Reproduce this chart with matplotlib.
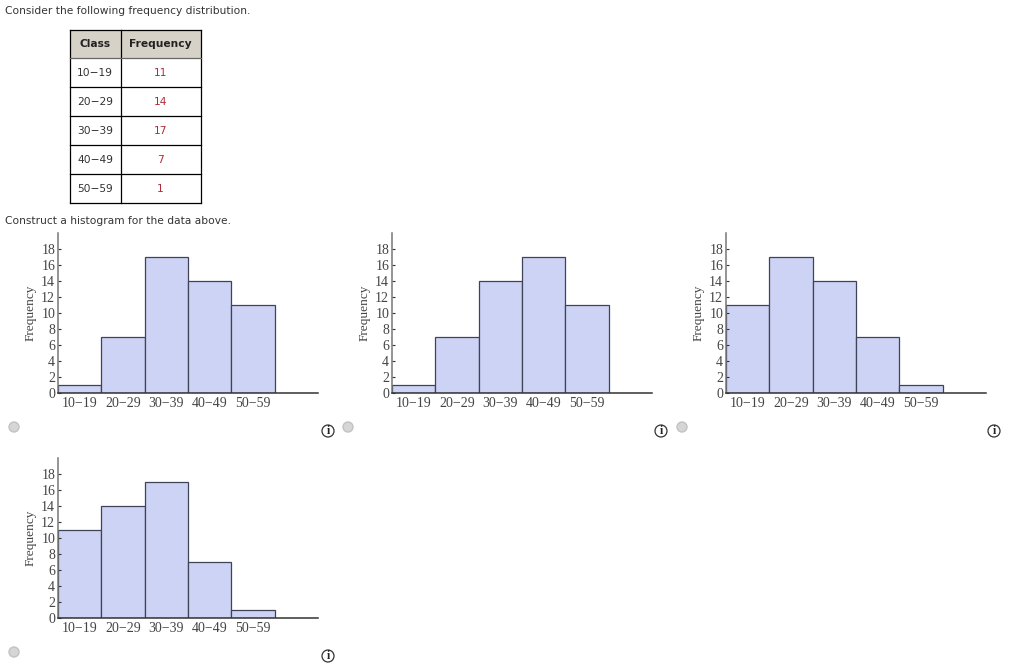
import matplotlib
matplotlib.use('Agg')
import matplotlib.pyplot as plt
from matplotlib.patches import Circle

W, H = 1024, 667

# table values
classes = ['10−19', '20−29', '30−39', '40−49', '50−59']
table_freq = [11, 14, 17, 7, 1]

# histogram options, bars left to right
freq_a = [1, 7, 17, 14, 11]
freq_b = [1, 7, 14, 17, 11]
freq_c = [11, 17, 14, 7, 1]
freq_d = [11, 14, 17, 7, 1]
y_ticks = [0, 2, 4, 6, 8, 10, 12, 14, 16, 18]

BAR_FILL = '#cdd3f5'
BAR_EDGE = '#3f4358'
SERIF = 'Liberation Serif'

fig = plt.figure(figsize=(W / 100, H / 100), dpi=100, facecolor='white')

# overlay in pixel coords for the page stuff
page = fig.add_axes([0, 0, 1, 1])
page.set_xlim(0, W)
page.set_ylim(H, 0)
page.axis('off')

page.text(5, 10.5, 'Consider the following frequency distribution.',
          fontsize=7.65, color='#333333', va='center', family='DejaVu Sans')
page.text(5, 220.5, 'Construct a histogram for the data above.',
          fontsize=7.65, color='#333333', va='center', family='DejaVu Sans')

# frequency table
col_x = [69.5, 120.5, 200.5]
row_y = [29.5, 58, 87, 116, 145, 174, 202.5]
page.fill_between(col_x, row_y[0], row_y[1], color='#d6d2c8', lw=0)
for x in col_x:
    page.plot([x, x], [row_y[0], row_y[-1]], color='black', lw=0.9)
for i, y in enumerate(row_y):
    page.plot([col_x[0], col_x[-1]], [y, y], color='#666666' if i == 1 else 'black', lw=0.9)

page.text(95, 44, 'Class', fontsize=7.65, fontweight='bold', ha='center', va='center', color='#222222')
page.text(160.5, 44, 'Frequency', fontsize=7.65, fontweight='bold', ha='center', va='center', color='#222222')
for i, (c, f) in enumerate(zip(classes, table_freq)):
    yc = (row_y[i + 1] + row_y[i + 2]) / 2 + 0.5
    page.text(95, yc, c, fontsize=7.65, ha='center', va='center', color='#333333')
    page.text(160.5, yc, str(f), fontsize=7.65, ha='center', va='center', color='#b02a37')


def draw_hist(left, zero_y, freqs):
    # 43.3 px per class, 8 px per frequency unit
    ax = fig.add_axes([left / W, 1 - zero_y / H, 260 / W, 160 / H], facecolor='none')
    ax.bar(range(5), freqs, width=1, align='edge', color=BAR_FILL, edgecolor=BAR_EDGE, linewidth=0.9)
    ax.set_xlim(0, 6)
    ax.set_ylim(0, 20)
    ax.spines['top'].set_visible(False)
    ax.spines['right'].set_visible(False)
    ax.spines['left'].set_color('#777777')
    ax.spines['left'].set_linewidth(1.1)
    ax.spines['bottom'].set_color('#333333')
    ax.spines['bottom'].set_linewidth(1.1)
    ax.set_yticks(y_ticks)
    ax.set_xticks([i + 0.5 for i in range(5)])
    ax.set_xticklabels(classes, fontsize=10, family=SERIF, color='#444444')
    ax.set_yticklabels([str(v) for v in y_ticks], fontsize=10, family=SERIF, color='#444444')
    ax.tick_params(axis='x', length=0, pad=3.2)
    ax.tick_params(axis='y', direction='in', length=2.5, width=0.8, color='#333333', pad=2)
    ax.set_ylabel('Frequency', fontsize=9.6, family=SERIF, color='#444444', labelpad=3.5)


def draw_radio(x, y):
    page.add_patch(Circle((x, y), 5, facecolor='#d6d6d6', edgecolor='#c2c2c2', lw=1))


def draw_info(x, y):
    page.add_patch(Circle((x, y), 6, facecolor='white', edgecolor='#333333', lw=0.9))
    page.text(x, y, 'i', fontsize=8.5, family=SERIF, fontweight='bold', ha='center', va='center', color='#222222')


draw_hist(58, 393, freq_a)
draw_hist(392, 393, freq_b)
draw_hist(726, 393, freq_c)
draw_hist(58, 618, freq_d)

for x, y in [(14, 427), (348, 427), (682, 427), (14, 652)]:
    draw_radio(x, y)
for x, y in [(328, 431), (661, 431), (994, 431), (328, 656)]:
    draw_info(x, y)

fig.savefig('out.png', dpi=100)
